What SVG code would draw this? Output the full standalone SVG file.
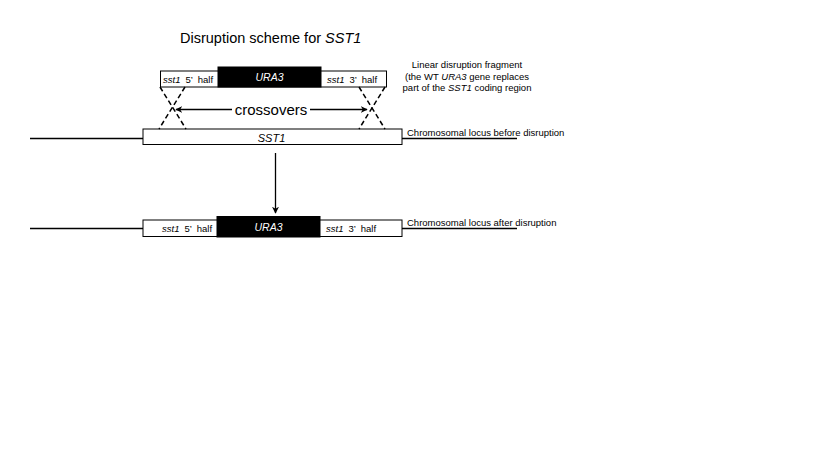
<svg xmlns="http://www.w3.org/2000/svg" width="819" height="460" viewBox="0 0 819 460">
<style>
text{font-family:"Liberation Sans",Arial,sans-serif;fill:#000}
.i{font-style:italic}
.box{fill:#fff;stroke:#000;stroke-width:1}
.blk{fill:#000;stroke:#000;stroke-width:1}
.chr{stroke:#000;stroke-width:1.5;fill:none}
.dash{stroke:#000;stroke-width:1.5;stroke-dasharray:5 3;fill:none}
.arr{stroke:#000;stroke-width:1.3;fill:none}
.lbl{font-size:9.5px;word-spacing:2.5px}
.note{font-size:9.5px}
</style>
<defs>
<marker id="ah" viewBox="0 0 10 10" refX="9" refY="5" markerWidth="7" markerHeight="7" markerUnits="userSpaceOnUse" orient="auto-start-reverse">
<path d="M0,0 L10,5 L0,10 L3,5 Z" fill="#000"/>
</marker>
</defs>
<rect width="819" height="460" fill="#fff"/>
<text id="title" x="180" y="43" font-size="14.5">Disruption scheme for <tspan class="i">SST1</tspan></text>

<g id="fragment">
<rect class="box" x="160.5" y="71" width="226" height="16"/>
<rect class="blk" x="218" y="67" width="103" height="20"/>
<text class="lbl" x="163" y="83"><tspan class="i">sst1</tspan> 5’ half</text>
<text x="269.5" y="81" font-size="10.5" class="i" text-anchor="middle" style="fill:#fff">URA3</text>
<text class="lbl" x="327" y="83"><tspan class="i">sst1</tspan> 3’ half</text>
</g>

<g id="fragment-note" class="note" text-anchor="middle">
<text x="467" y="68">Linear disruption fragment</text>
<text x="467" y="79.5">(the WT <tspan class="i">URA3</tspan> gene replaces</text>
<text x="467" y="91">part of the <tspan class="i">SST1</tspan> coding region</text>
</g>

<g id="locus-before">
<line class="chr" x1="30" y1="138.5" x2="143" y2="138.5"/>
<line class="chr" x1="402" y1="138.5" x2="517" y2="138.5"/>
<rect class="box" x="143" y="129" width="259" height="15.5"/>
<text x="271.5" y="142" font-size="11" class="i" text-anchor="middle">SST1</text>
<text class="note" x="407" y="136">Chromosomal locus before disruption</text>
</g>

<g id="locus-after">
<line class="chr" x1="30" y1="228.5" x2="143" y2="228.5"/>
<line class="chr" x1="402" y1="228.5" x2="517" y2="228.5"/>
<rect class="box" x="143" y="220" width="259" height="16.5"/>
<rect class="blk" x="217" y="216.5" width="103" height="20.5"/>
<text class="lbl" x="162" y="231.5"><tspan class="i">sst1</tspan> 5’ half</text>
<text x="268.5" y="231" font-size="10.5" class="i" text-anchor="middle" style="fill:#fff">URA3</text>
<text class="lbl" x="326" y="231.5"><tspan class="i">sst1</tspan> 3’ half</text>
<text class="note" x="407" y="226">Chromosomal locus after disruption</text>
</g>

<g id="connectors">
<line class="dash" x1="160" y1="87" x2="186" y2="129"/>
<line class="dash" x1="185" y1="87" x2="159" y2="129"/>
<line class="dash" x1="359" y1="87" x2="385" y2="129"/>
<line class="dash" x1="385" y1="87" x2="359" y2="129"/>
<line class="arr" x1="176" y1="109.5" x2="232" y2="109.5" marker-start="url(#ah)"/>
<line class="arr" x1="310" y1="109.5" x2="367" y2="109.5" marker-end="url(#ah)"/>
<text x="271" y="114.5" font-size="15" text-anchor="middle">crossovers</text>
<line class="arr" x1="275.5" y1="153" x2="275.5" y2="213" marker-end="url(#ah)"/>
</g>
</svg>
